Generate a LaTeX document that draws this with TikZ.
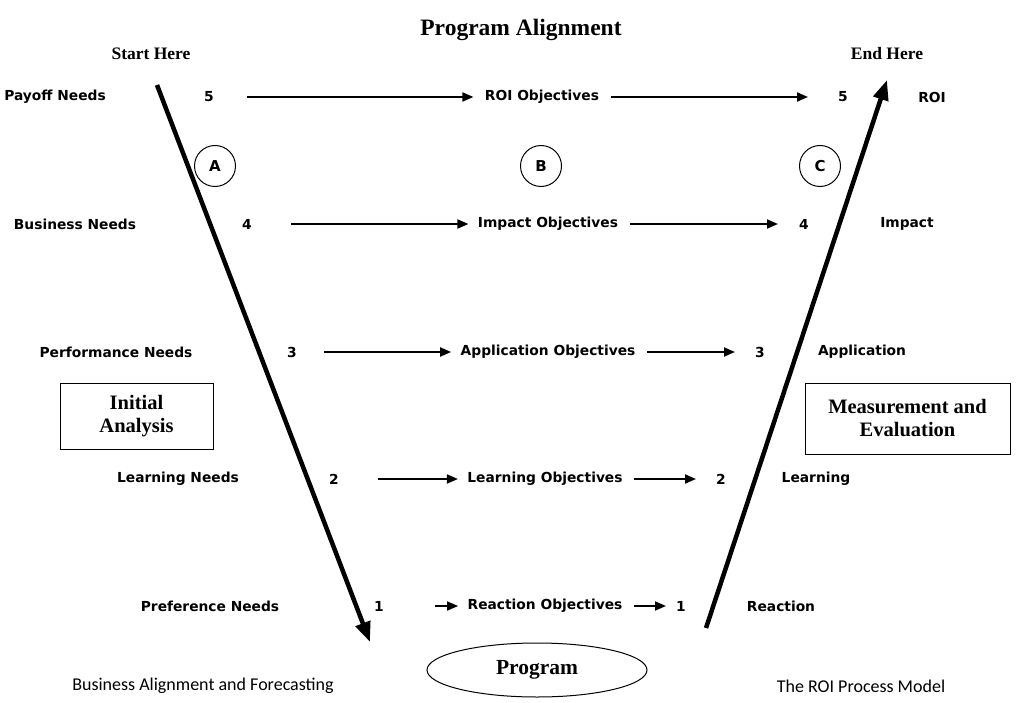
\documentclass[tikz,border=0pt]{standalone}
\usepackage{fontspec}
\setmainfont{DejaVu Sans}
\newfontfamily\titlefont{Liberation Serif}
\newfontfamily\notefont{Carlito}
\usetikzlibrary{arrows.meta,shapes.geometric}
\tikzset{
  lbl/.style={font=\fontsize{13.8}{16}\selectfont\bfseries},
  serif/.style={font=\titlefont\fontsize{20.5}{23}\selectfont\bfseries, align=center},
  link/.style={-{Triangle[length=11pt,width=9pt]}, line width=1.8pt},
  letter/.style={circle, draw, line width=1pt, minimum size=41pt, lbl, font=\fontsize{15}{17}\selectfont\bfseries},
  frame/.style={draw, line width=1pt, serif},
}
\begin{document}
\begin{tikzpicture}[x=1pt,y=-1pt]
\useasboundingbox (0,0) rectangle (1024,703);
\node[serif, font=\titlefont\fontsize{23.5}{26}\selectfont\bfseries] (title) at (521,30) {Program Alignment};
\node[serif, font=\titlefont\fontsize{17.5}{20}\selectfont\bfseries] (start) at (151,54) {Start Here};
\node[serif, font=\titlefont\fontsize{17.5}{20}\selectfont\bfseries] (end) at (887,54) {End Here};

% needs, objectives, results
\node[lbl] (needA) at (55,97) {Payoff Needs};
\node[lbl] (needB) at (75,224) {Business Needs};
\node[lbl] (needC) at (116,352) {Performance Needs};
\node[lbl] (needD) at (178,479) {Learning Needs};
\node[lbl] (needE) at (210,606) {Preference Needs};

\node[lbl] (lnA) at (209,97) {5};
\node[lbl] (lnB) at (247,224) {4};
\node[lbl] (lnC) at (292,352) {3};
\node[lbl] (lnD) at (334,479) {2};
\node[lbl] (lnE) at (379,606) {1};

\node[lbl] (objA) at (542,97) {ROI Objectives};
\node[lbl] (objB) at (548,224) {Impact Objectives};
\node[lbl] (objC) at (548,352) {Application Objectives};
\node[lbl] (objD) at (545,479) {Learning Objectives};
\node[lbl] (objE) at (545,606) {Reaction Objectives};

\node[lbl] (rnA) at (843,97) {5};
\node[lbl] (rnB) at (804,224) {4};
\node[lbl] (rnC) at (760,352) {3};
\node[lbl] (rnD) at (721,479) {2};
\node[lbl] (rnE) at (681,606) {1};

\node[lbl] (resA) at (932,97) {ROI};
\node[lbl] (resB) at (907,224) {Impact};
\node[lbl] (resC) at (862,352) {Application};
\node[lbl] (resD) at (816,479) {Learning};
\node[lbl] (resE) at (781,606) {Reaction};

\draw[link] ([xshift=38pt]lnA.center) -- ([xshift=-8pt]objA.west);
\draw[link] ([xshift=44pt]lnB.center) -- ([xshift=-6pt]objB.west);
\draw[link] ([xshift=32pt]lnC.center) -- ([xshift=-6pt]objC.west);
\draw[link] ([xshift=44pt]lnD.center) -- ([xshift=-6pt]objD.west);
\draw[link] ([xshift=56pt]lnE.center) -- ([xshift=-6pt]objE.west);

\draw[link] ([xshift=8pt]objA.east) -- ([xshift=-35pt]rnA.center);
\draw[link] ([xshift=8pt]objB.east) -- ([xshift=-26pt]rnB.center);
\draw[link] ([xshift=8pt]objC.east) -- ([xshift=-25pt]rnC.center);
\draw[link] ([xshift=8pt]objD.east) -- ([xshift=-25pt]rnD.center);
\draw[link] ([xshift=8pt]objE.east) -- ([xshift=-15pt]rnE.center);

\node[letter] (cA) at (215,166) {A};
\node[letter] (cB) at (541,166) {B};
\node[letter] (cC) at (820,166) {C};

% the V
\coordinate (vTop) at (157,85);
\coordinate (vLow) at (370,642);
\coordinate (wLow) at (706,628);
\coordinate (wTop) at (887,80);
\draw[line width=4.5pt, -{Triangle[length=20pt,width=15pt]}] (vTop) -- (vLow);
\draw[line width=4.5pt, -{Triangle[length=20pt,width=15pt]}] (wLow) -- (wTop);

\node[frame, minimum width=153pt, minimum height=66pt] (init) at (136.5,416) {Initial\\Analysis};
\node[frame, minimum width=205pt, minimum height=71pt] (meas) at (907.5,418.5) {Measurement and\\Evaluation};

\node[ellipse, draw, line width=1pt, minimum width=220pt, minimum height=54pt, serif, font=\titlefont\fontsize{21.5}{24}\selectfont\bfseries] (prog) at (537,670) {Program};

\node[font=\notefont\fontsize{18}{20}\selectfont] (noteL) at (203,686) {Business Alignment and Forecasting};
\node[font=\notefont\fontsize{18}{20}\selectfont] (noteR) at (861,686) {The ROI Process Model};
\end{tikzpicture}
\end{document}
